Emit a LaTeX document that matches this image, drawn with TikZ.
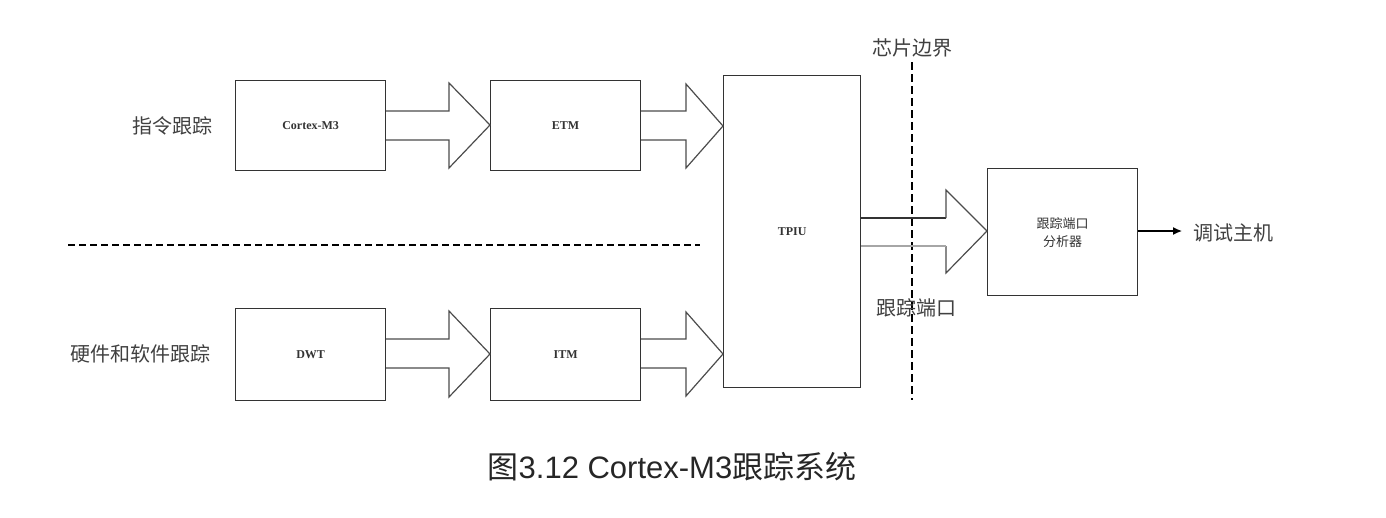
\documentclass[tikz,border=0pt]{standalone}
\usepackage{fontspec}
\usetikzlibrary{arrows.meta}
\setmainfont{Liberation Serif}
\newfontfamily\cjk{Noto Sans CJK SC}
\newfontfamily\capf{Liberation Sans}
\begin{document}
\begin{tikzpicture}[x=1pt,y=-1pt,
  blk/.style={draw=black!80,line width=1.2pt,fill=white},
  barrow/.style={draw=black!70,line width=1.2pt},
  lbl/.style={font=\cjk\fontsize{20}{24}\selectfont,text=black!75},
  btxt/.style={font=\fontsize{12}{14}\selectfont\bfseries,text=black!80}]
\useasboundingbox (0,0) rectangle (1386,517);
% dashed lines
\draw[dashed,line width=1.3pt,dash pattern=on 7pt off 4pt] (68,245) -- (700,245);
\draw[dashed,line width=1.5pt,dash pattern=on 8pt off 4pt] (912,62) -- (912,400);
% boxes
\node[blk,minimum width=150,minimum height=90,anchor=north west,btxt] (cm3) at (235,80) {Cortex-M3};
\node[blk,minimum width=150,minimum height=90,anchor=north west,btxt] (etm) at (490,80) {ETM};
\node[blk,minimum width=150,minimum height=92,anchor=north west,btxt] (dwt) at (235,308) {DWT};
\node[blk,minimum width=150,minimum height=92,anchor=north west,btxt] (itm) at (490,308) {ITM};
\node[blk,minimum width=137,minimum height=312,anchor=north west,btxt] (tpiu) at (723,75) {TPIU};
\node[blk,minimum width=150,minimum height=127,anchor=north west,align=center,font=\cjk\fontsize{13}{18}\selectfont,text=black!80] (ana) at (987,168) {跟踪端口\\分析器};
% block arrows
\draw[barrow] (cm3.east|-0,111) -- (449,111) -- (449,83) -- (etm.west|-0,125) -- (449,168) -- (449,140) -- (cm3.east|-0,140);
\draw[barrow] (etm.east|-0,111) -- (686,111) -- (686,84) -- (tpiu.west|-0,126) -- (686,168) -- (686,140) -- (etm.east|-0,140);
\draw[barrow] (dwt.east|-0,339) -- (449,339) -- (449,311) -- (itm.west|-0,354) -- (449,397) -- (449,368) -- (dwt.east|-0,368);
\draw[barrow] (itm.east|-0,339) -- (686,339) -- (686,312) -- (tpiu.west|-0,354) -- (686,396) -- (686,368) -- (itm.east|-0,368);
\draw[line width=1.3pt,black!80] (tpiu.east|-0,218) -- (946,218);
\draw[barrow,black!70] (946,218) -- (946,190) -- (ana.west|-0,231) -- (946,273) -- (946,246);
\draw[line width=1.3pt,black!35] (tpiu.east|-0,246) -- (946,246);
% output arrow
\coordinate (host) at (1182,231);
\draw[line width=1.3pt,-{Latex[length=9pt,width=8pt]}] (ana.east|-0,231) -- (host);
\node[lbl,anchor=west] at (1190,233) {调试主机};
% labels
\node[lbl] at (172,126) {指令跟踪};
\node[lbl] at (140,354) {硬件和软件跟踪};
\node[lbl] at (912,48) {芯片边界};
\node[lbl] at (916,308) {跟踪端口};
\node[font=\capf\fontsize{31}{36}\selectfont,text=black!85] at (672,467) {{\cjk 图}3.12 Cortex-M3{\cjk 跟踪系统}};
\end{tikzpicture}
\end{document}
